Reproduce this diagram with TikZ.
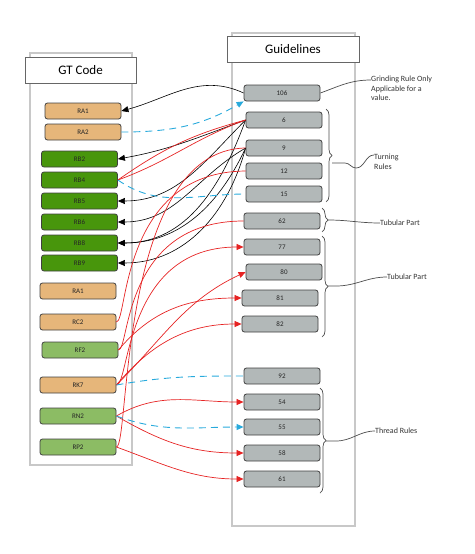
\documentclass[tikz,border=0pt]{standalone}
\usepackage{fontspec}
\setmainfont{Carlito}
\usetikzlibrary{arrows.meta, positioning, decorations.pathreplacing}
\definecolor{tanbox}{RGB}{230,182,122}
\definecolor{darkgreen}{RGB}{72,150,12}
\definecolor{lightgreen}{RGB}{140,188,100}
\definecolor{rulegray}{RGB}{178,184,184}
\definecolor{panelgray}{RGB}{200,200,200}
\definecolor{linkred}{RGB}{230,35,35}
\definecolor{linkblue}{RGB}{40,170,220}
\tikzset{
  codebox/.style={draw=black!75, line width=0.8pt, rounded corners=2.5pt, minimum width=76pt, minimum height=16pt, inner sep=0pt, font=\fontsize{7}{8}\selectfont, text=black!85},
  rulebox/.style={codebox, fill=rulegray},
  headbox/.style={draw=black!60, line width=0.8pt, fill=white, minimum height=26pt, inner sep=0pt, font=\fontsize{13}{14}\selectfont},
  panel/.style={draw=panelgray, line width=1.2pt},
  note/.style={font=\fontsize{8}{9.5}\selectfont, text=black!80, align=left, inner sep=0pt},
  tip/.style={-{Triangle[length=7pt,width=6pt]}},
  blackref/.style={tip, draw=black, line width=0.6pt},
  redref/.style={draw=linkred, line width=0.7pt},
  blueref/.style={draw=linkblue, line width=0.9pt, dash pattern=on 7pt off 5pt},
  curly/.style={draw=black!70, line width=0.7pt, decorate, decoration={brace, amplitude=6pt}}
}
\begin{document}
\begin{tikzpicture}[x=1pt, y=-1pt]
  \useasboundingbox (0,0) rectangle (474,554);
  % Panels
  \draw[panel] (30,53) rectangle (132,465);
  \draw[panel] (232,33) rectangle (355,526);
  \node[headbox, minimum width=111pt] (gthead) at (80.5,70) {GT Code};
  \node[headbox, minimum width=132pt] (guidehead) at (293,49.5) {Guidelines};

  % GT codes
  \node[codebox, fill=tanbox] (ra1) at (83,111) {RA1};
  \node[codebox, fill=tanbox] (ra2) at (83,132) {RA2};
  \node[codebox, fill=darkgreen] (rb2) at (79.5,159) {RB2};
  \node[codebox, fill=darkgreen] (rb4) at (79.5,180) {RB4};
  \node[codebox, fill=darkgreen] (rb5) at (79.5,201) {RB5};
  \node[codebox, fill=darkgreen] (rb6) at (79.5,222) {RB6};
  \node[codebox, fill=darkgreen] (rb8) at (79.5,243) {RB8};
  \node[codebox, fill=darkgreen] (rb9) at (79.5,263) {RB9};
  \node[codebox, fill=tanbox] (ra1b) at (78,291) {RA1};
  \node[codebox, fill=tanbox] (rc2) at (78,322) {RC2};
  \node[codebox, fill=lightgreen] (rf2) at (80,350) {RF2};
  \node[codebox, fill=tanbox] (rk7) at (78,385) {RK7};
  \node[codebox, fill=lightgreen] (rn2) at (78,416) {RN2};
  \node[codebox, fill=lightgreen] (rp2) at (78,447) {RP2};

  % Guideline rules
  \node[rulebox] (g106) at (282,93) {106};
  \node[rulebox] (g6) at (284,120) {6};
  \node[rulebox] (g9) at (284,148) {9};
  \node[rulebox] (g12) at (284,171) {12};
  \node[rulebox] (g15) at (284,194) {15};
  \node[rulebox] (g62) at (282,221) {62};
  \node[rulebox] (g77) at (282,247) {77};
  \node[rulebox] (g80) at (284,272) {80};
  \node[rulebox] (g81) at (280,298) {81};
  \node[rulebox] (g82) at (280,324) {82};
  \node[rulebox] (g92) at (282,376) {92};
  \node[rulebox] (g54) at (282,402) {54};
  \node[rulebox] (g55) at (282,427) {55};
  \node[rulebox] (g58) at (282,453) {58};
  \node[rulebox] (g61) at (282,479) {61};

  % Black references
  \draw[blackref] (g106.west) to[out=155, in=15] (ra1.east);
  \draw[blackref] (g6.west) to[out=200, in=10] (rb2.east);
  \draw[blackref] (g6.west) to[out=225, in=0] (rb5.east);
  \draw[blackref] (g6.west) to[out=250, in=0] (rb8.east);
  \draw[blackref] (g9.west) to[out=210, in=0] (rb6.east);
  \draw[blackref] (g9.west) to[out=245, in=0] (rb8.east);
  \draw[blackref] (g9.west) to[out=255, in=0] (rb9.east);

  % Red references
  \draw[redref] (rb4.east) to[out=20, in=200] (g6.west);
  \draw[redref] (rb4.east) to[out=35, in=195] (g6.west);
  \draw[redref] (rp2.east) .. controls (130,447) and (118,150) .. (g9.west);
  \draw[redref] (rc2.east) .. controls (128,322) and (120,172) .. (g12.west);
  \draw[redref] (rf2.east) .. controls (130,350) and (122,221) .. (g62.west);
  \draw[redref, tip] (rk7.east) .. controls (130,385) and (124,247) .. (g77.west);
  \draw[redref, tip] (rk7.east) to[out=45, in=205] (g80.west);
  \draw[redref, tip] (rf2.east) to[out=50, in=180] (g81.west);
  \draw[redref, tip] (rk7.east) to[out=50, in=180] (g82.west);
  \draw[redref, tip] (rn2.east) to[out=30, in=180] (g54.west);
  \draw[redref, tip] (rn2.east) to[out=-30, in=180] (g58.west);
  \draw[redref, tip] (rp2.east) to[out=-20, in=180] (g61.west);

  % Blue references
  \draw[blueref, tip] (ra2.east) to[out=0, in=210] (g106.south west);
  \draw[blueref] (rb4.east) to[out=-35, in=180] (g15.west);
  \draw[blueref] (rk7.east) to[out=10, in=180] (g92.west);
  \draw[blueref, tip] (rn2.east) to[out=-20, in=180] (g55.west);

  % Braces and notes
  \node[note, anchor=north west] (grinding) at (371,76) {Grinding Rule Only\\Applicable for a\\value.};
  \draw[black!70, line width=0.7pt] (g106.east) to[out=20, in=180] (grinding.west |- 0,80);

  \draw[curly] (326,109) -- (326,202);
  \coordinate (turntip) at (332,163);
  \node[note, anchor=west] (turning) at (374,162) {Turning\\Rules};
  \draw[black!70, line width=0.7pt] (turntip) -- (345,163) to[out=0, in=180] (356,168) to[out=0, in=180] (turning.west |- 0,155);

  \draw[curly] (322,208) -- (322,232);
  \coordinate (tubetipa) at (328,220);
  \node[note, anchor=west] (tubulara) at (380,223) {Tubular Part};
  \draw[black!70, line width=0.7pt] (tubetipa) to[out=0, in=180] (tubulara.west);

  \draw[curly] (322,236) -- (322,337);
  \coordinate (tubetipb) at (328,286);
  \node[note, anchor=west] (tubularb) at (387,277) {Tubular Part};
  \draw[black!70, line width=0.7pt] (tubetipb) -- (336,286) to[out=0, in=180] (tubularb.west);

  \draw[curly] (320,388) -- (320,493);
  \coordinate (threadtip) at (326,441);
  \node[note, anchor=west] (thread) at (375,431) {Thread Rules};
  \draw[black!70, line width=0.7pt] (threadtip) -- (336,441) to[out=0, in=180] (thread.west);
\end{tikzpicture}
\end{document}
